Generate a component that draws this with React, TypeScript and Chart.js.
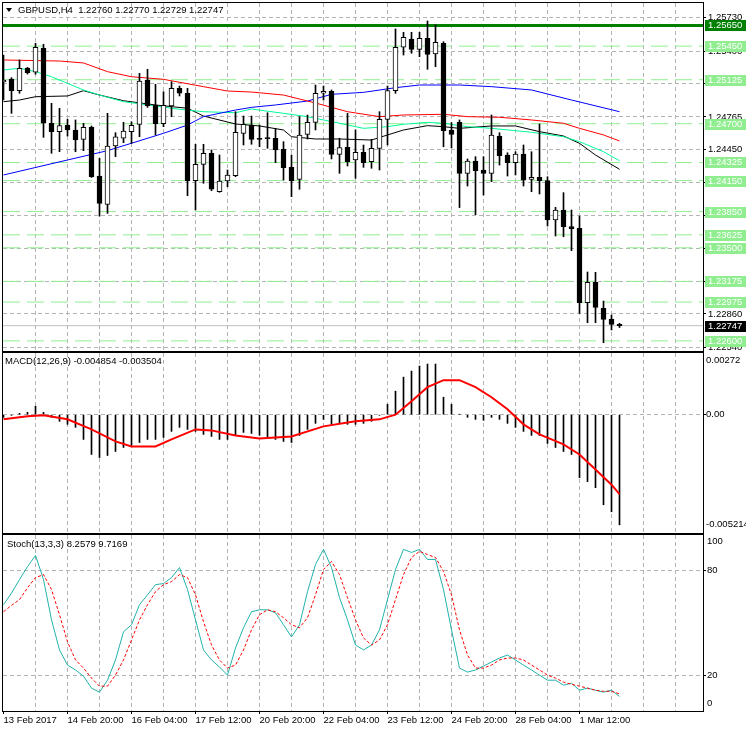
import React, { useEffect, useRef } from 'react';
import { Chart, registerables } from 'chart.js';

Chart.register(...registerables);

// ---------- data ----------
const TITLE = 'GBPUSD,H4  1.22760 1.22770 1.22729 1.22747';
const MACD_TITLE = 'MACD(12,26,9) -0.004854 -0.003504';
const STOCH_TITLE = 'Stoch(13,3,3) 8.2579 9.7169';

const X_LABELS = ['13 Feb 2017', '14 Feb 20:00', '16 Feb 04:00', '17 Feb 12:00', '20 Feb 20:00', '22 Feb 04:00', '23 Feb 12:00', '24 Feb 20:00', '28 Feb 04:00', '1 Mar 12:00'];
const X_LABEL_BARS = [0, 8, 16, 24, 32, 40, 48, 56, 64, 72];
const X_GRID_BARS = [0, 4, 8, 12, 16, 20, 24, 28, 32, 36, 40, 44, 48, 52, 56, 60, 64, 68, 72, 76, 80, 84];

const OPEN = [1.25103, 1.25132, 1.25019, 1.25236, 1.25197, 1.25429, 1.24704, 1.24623, 1.24687, 1.24639, 1.24549, 1.24665, 1.24194, 1.23920, 1.24484, 1.24559, 1.24623, 1.24694, 1.25122, 1.24878, 1.24700, 1.24871, 1.25042, 1.24994, 1.24149, 1.24307, 1.24414, 1.24042, 1.24146, 1.24197, 1.24607, 1.24687, 1.24559, 1.24559, 1.24559, 1.24452, 1.24278, 1.24162, 1.24597, 1.24713, 1.24994, 1.25013, 1.24404, 1.24472, 1.24349, 1.24423, 1.24332, 1.24462, 1.24742, 1.25019, 1.25439, 1.25519, 1.25419, 1.25526, 1.25374, 1.25477, 1.24639, 1.24713, 1.24220, 1.24339, 1.24252, 1.24220, 1.24581, 1.24397, 1.24323, 1.24407, 1.24162, 1.24181, 1.24149, 1.23769, 1.23865, 1.23704, 1.23688, 1.22969, 1.23166, 1.22915, 1.22811, 1.22760];
const HIGH = [1.25364, 1.25145, 1.25316, 1.25245, 1.25477, 1.25468, 1.24897, 1.24849, 1.24742, 1.24736, 1.24704, 1.24678, 1.24365, 1.24800, 1.24613, 1.24713, 1.24719, 1.25187, 1.25226, 1.25081, 1.25009, 1.25106, 1.25064, 1.25042, 1.24501, 1.24501, 1.24446, 1.24397, 1.24252, 1.24816, 1.24774, 1.24774, 1.24687, 1.24806, 1.24655, 1.24526, 1.24397, 1.24767, 1.24784, 1.25074, 1.25064, 1.25026, 1.24559, 1.24800, 1.24639, 1.24494, 1.24549, 1.24816, 1.25064, 1.25616, 1.25584, 1.25584, 1.25584, 1.25693, 1.25654, 1.25493, 1.24711, 1.24736, 1.24359, 1.24381, 1.24381, 1.24784, 1.24613, 1.24419, 1.24429, 1.24494, 1.24429, 1.24697, 1.24187, 1.23891, 1.24033, 1.23865, 1.23807, 1.23266, 1.23263, 1.22985, 1.22850, 1.22770];
const LOW = [1.24929, 1.24800, 1.24994, 1.25180, 1.25178, 1.24568, 1.24414, 1.24429, 1.24581, 1.24429, 1.24439, 1.24180, 1.23807, 1.23833, 1.24381, 1.24516, 1.24510, 1.24574, 1.24858, 1.24591, 1.24671, 1.24768, 1.24968, 1.24004, 1.23865, 1.24124, 1.24052, 1.24037, 1.24091, 1.24187, 1.24494, 1.24501, 1.24477, 1.24462, 1.24323, 1.24155, 1.23994, 1.24066, 1.24552, 1.24639, 1.24929, 1.24359, 1.24220, 1.24291, 1.24172, 1.24278, 1.24269, 1.24252, 1.24494, 1.24994, 1.25364, 1.25381, 1.25348, 1.25226, 1.25251, 1.24477, 1.24465, 1.23889, 1.24097, 1.23820, 1.24010, 1.24139, 1.24300, 1.24194, 1.24204, 1.24097, 1.24042, 1.24020, 1.23711, 1.23614, 1.23607, 1.23472, 1.22866, 1.22776, 1.22776, 1.22582, 1.22705, 1.22729];
const CLOSE = [1.25122, 1.25019, 1.25236, 1.25193, 1.25439, 1.24704, 1.24623, 1.24681, 1.24639, 1.24542, 1.24665, 1.24187, 1.23930, 1.24484, 1.24574, 1.24629, 1.24684, 1.25113, 1.24871, 1.24700, 1.24878, 1.25042, 1.24994, 1.24146, 1.24307, 1.24414, 1.24066, 1.24146, 1.24204, 1.24617, 1.24694, 1.24549, 1.24549, 1.24556, 1.24446, 1.24274, 1.24149, 1.24591, 1.24713, 1.24994, 1.25013, 1.24404, 1.24468, 1.24332, 1.24423, 1.24323, 1.24462, 1.24742, 1.25019, 1.25439, 1.25535, 1.25419, 1.25526, 1.25371, 1.25487, 1.24632, 1.24597, 1.24220, 1.24339, 1.24245, 1.24220, 1.24591, 1.24390, 1.24323, 1.24407, 1.24155, 1.24181, 1.24149, 1.23769, 1.23865, 1.23704, 1.23685, 1.22969, 1.23166, 1.22924, 1.22808, 1.22760, 1.22747];

// moving averages read at selected bars
const RED_MA_BARS = [0, 7, 10, 13, 16, 20, 25, 28, 31, 35, 39, 43, 47, 50, 55, 58, 62, 66, 70, 72, 75, 77];
const RED_MA = [1.25316, 1.25306, 1.25287, 1.25203, 1.25154, 1.25129, 1.25058, 1.25016, 1.25006, 1.24977, 1.24900, 1.24816, 1.24768, 1.24784, 1.24791, 1.24768, 1.24762, 1.24736, 1.24704, 1.24655, 1.24591, 1.24533];
const BLUE_MA_BARS = [0, 8, 13, 20, 23, 25, 29, 31, 34, 38, 41, 45, 49, 52, 57, 61, 66, 71, 77];
const BLUE_MA = [1.24204, 1.24349, 1.24439, 1.24607, 1.24687, 1.24768, 1.24832, 1.24858, 1.24881, 1.24919, 1.24984, 1.25003, 1.25048, 1.25074, 1.25074, 1.25058, 1.25026, 1.24929, 1.24816];
const BLACK_MA_BARS = [0, 2, 4, 8, 10, 12, 15, 19, 23, 25, 29, 32, 35, 36, 39, 42, 46, 48, 50, 53, 55, 57, 61, 64, 67, 70, 72, 74, 77];
const BLACK_MA = [1.24913, 1.24929, 1.24961, 1.24968, 1.25019, 1.24977, 1.24922, 1.24881, 1.24849, 1.24774, 1.24697, 1.24678, 1.24639, 1.24574, 1.24552, 1.24552, 1.24542, 1.24591, 1.24639, 1.24681, 1.24671, 1.24655, 1.24678, 1.24678, 1.24623, 1.24581, 1.24510, 1.24397, 1.24259];
const GREEN_MA_BARS = [0, 2, 4, 6, 10, 12, 15, 19, 22, 25, 29, 31, 35, 38, 42, 45, 48, 50, 53, 55, 58, 61, 66, 70, 72, 75, 77];
const GREEN_MA = [1.25219, 1.25236, 1.25203, 1.25154, 1.25026, 1.24977, 1.24913, 1.24871, 1.24839, 1.24816, 1.24806, 1.24842, 1.24800, 1.24768, 1.24704, 1.24655, 1.24671, 1.24694, 1.24713, 1.24704, 1.24671, 1.24655, 1.24617, 1.24574, 1.24526, 1.24429, 1.24342];

const MAIN_LEVEL = 1.2565;
const LEVELS = [1.2545, 1.25125, 1.247, 1.24325, 1.2415, 1.2385, 1.23625, 1.235, 1.23175, 1.22975, 1.226];
const LAST_PRICE = 1.22747;
const PRICE_TICKS = [1.2573, 1.254, 1.25085, 1.24765, 1.2445, 1.2413, 1.2381, 1.23495, 1.23175, 1.2286, 1.2254];
const PRICE_MIN = 1.22502;
const PRICE_MAX = 1.25867;

const MACD_HIST = [-0.000115, -0.000027, 0.000062, 0.000106, 0.000372, 0.000106, -0.000115, -0.000292, -0.000425, -0.000558, -0.00109, -0.001753, -0.001887, -0.001798, -0.001621, -0.001444, -0.001356, -0.001223, -0.00109, -0.00109, -0.001001, -0.000735, -0.000558, -0.000647, -0.000735, -0.000868, -0.000957, -0.00109, -0.00109, -0.000912, -0.00078, -0.000824, -0.000912, -0.001001, -0.00109, -0.001178, -0.001223, -0.000912, -0.000647, -0.000381, -0.000204, -0.000425, -0.000381, -0.000425, -0.000425, -0.000381, -0.000292, -0.000027, 0.000461, 0.001037, 0.001657, 0.001923, 0.002144, 0.002233, 0.002233, 0.000771, 0.000461, 0.000018, -0.000115, -0.000204, -0.000248, -0.000115, -0.000204, -0.000381, -0.000558, -0.000735, -0.000912, -0.000912, -0.001266, -0.001444, -0.001621, -0.001753, -0.002773, -0.00295, -0.003216, -0.003969, -0.004279, -0.004854];
const MACD_SIGNAL_BARS = [0, 3, 5, 8, 11, 14, 16, 19, 21, 24, 26, 29, 32, 36, 40, 44, 47, 49, 51, 53, 55, 57, 59, 61, 63, 65, 67, 70, 72, 74, 76, 77];
const MACD_SIGNAL = [-0.000204, -0.000071, -0.000027, -0.000204, -0.000647, -0.001178, -0.0014, -0.0014, -0.00109, -0.000647, -0.000691, -0.000912, -0.001046, -0.000957, -0.000514, -0.000292, -0.000204, 0, 0.000594, 0.001214, 0.001524, 0.001524, 0.001214, 0.000771, 0.000239, -0.000425, -0.000868, -0.001311, -0.001753, -0.002419, -0.003083, -0.003504];
const MACD_MAX = 0.00272;
const MACD_MIN = -0.005214;
const MACD_TICKS = [0.00238, 0, -0.00482];
const MACD_TICK_LABELS = ['0.00272', '0.00', '-0.005214'];

const STOCH_MAIN = [60.4, 67, 74.7, 82, 88.4, 74.7, 51.8, 34.7, 26.1, 23.3, 19.8, 13, 10.7, 17.5, 29, 45, 49, 60.4, 66, 71.8, 72.4, 75.8, 81.5, 69, 51.8, 34.7, 29, 25, 20.4, 35.8, 47.3, 56.4, 57.5, 57.5, 55.8, 49, 42.1, 49, 67.8, 83.3, 91.8, 81.5, 64.4, 51.8, 37.5, 34.7, 37.5, 46.1, 63.3, 80.4, 91.8, 90.1, 91.8, 86.1, 86.1, 69, 46.1, 24.4, 22.1, 23.3, 25.5, 27.8, 30.1, 31.8, 29, 26.1, 23.3, 20.4, 17.5, 17.5, 14.7, 15.8, 11.8, 13, 11.8, 10.7, 11.8, 8.26];
const STOCH_SIGNAL = [56.4, 60, 63.3, 70, 75.8, 77.5, 69, 54.7, 39.3, 29, 24.4, 18.7, 14.1, 14.1, 20.4, 29, 40.4, 51.8, 60.4, 67.8, 71.8, 73.5, 77.5, 75.8, 66, 50.7, 37.5, 29, 24.4, 26.1, 34.7, 46.1, 54.7, 57.5, 56.4, 53, 49, 47.3, 53, 66, 80.4, 85, 77.5, 64.4, 51.8, 41.5, 37.5, 40.4, 49, 63.3, 77.5, 87.2, 90.7, 88.9, 87.2, 79.3, 66, 46.1, 31.8, 24.4, 24.4, 26.1, 29, 30.1, 30.1, 29, 26.1, 23.3, 20.4, 18.7, 16.4, 15.2, 14.1, 13, 11.8, 11.2, 11.2, 9.72];
const STOCH_TICKS = [96.2, 80, 20, 4.4];
const STOCH_TICK_LABELS = ['100', '80', '20', '0'];

// ---------- styling ----------
const FONT = "'Liberation Sans', Arial, sans-serif";
const FONT_SIZE = 9.5;
const GRID_COLOR = '#b4b4b4';
const GRID_DASH = [4, 3];
const LEVEL_COLOR = '#90ee90';
const X_MIN = -0.0625;
const X_MAX = 87.4375;
const AXIS_W = 43;

const pts = (xs: number[], ys: number[]) => xs.map((x, i) => ({ x, y: ys[i] }));
const hLine = (v: number) => [{ x: X_MIN, y: v }, { x: X_MAX, y: v }];

const noPad = (s: any) => {
  s.paddingTop = 0;
  s.paddingBottom = 0;
  s.paddingLeft = 0;
  s.paddingRight = 0;
};

const xScale = (showLabels: boolean) => ({
  type: 'linear',
  min: X_MIN,
  max: X_MAX,
  offset: false,
  afterBuildTicks: (s: any) => { s.ticks = X_GRID_BARS.map((v) => ({ value: v })); },
  afterFit: (s: any) => { s.height = showLabels ? 20 : 0; noPad(s); },
  grid: {
    offset: false,
    color: (c: any) => (c.tick && c.tick.value > 0 ? GRID_COLOR : 'rgba(0,0,0,0)'),
    drawTicks: showLabels,
    tickLength: 3,
    tickColor: (c: any) => (c.tick && X_LABEL_BARS.includes(c.tick.value) ? '#000' : 'rgba(0,0,0,0)'),
    tickBorderDash: [],
  },
  border: { display: false, dash: GRID_DASH },
  ticks: {
    display: showLabels,
    autoSkip: false,
    maxRotation: 0,
    align: 'start',
    padding: 1,
    color: '#000',
    font: { family: FONT, size: FONT_SIZE },
    callback: (v: number) => {
      const k = X_LABEL_BARS.indexOf(v);
      return k >= 0 ? X_LABELS[k] : '';
    },
  },
});

const yScale = (min: number, max: number, ticks: number[], label: (v: number, i: number) => string, gridOn: (v: number) => boolean, pad: number) => ({
  type: 'linear',
  position: 'right',
  min,
  max,
  afterBuildTicks: (s: any) => { s.ticks = ticks.map((v) => ({ value: v })); },
  afterFit: (s: any) => { s.width = AXIS_W; noPad(s); },
  grid: {
    color: (c: any) => (c.tick && gridOn(c.tick.value) ? GRID_COLOR : 'rgba(0,0,0,0)'),
    tickColor: (c: any) => (c.tick && gridOn(c.tick.value) ? '#000' : 'rgba(0,0,0,0)'),
    tickLength: 3,
    tickBorderDash: [],
  },
  border: { display: true, color: '#000', dash: GRID_DASH },
  ticks: {
    autoSkip: false,
    padding: pad,
    color: '#000',
    font: { family: FONT, size: FONT_SIZE },
    callback: (v: number, i: number) => label(v, i),
  },
});

const framePlugin = {
  id: 'frame',
  afterDraw(chart: any) {
    const { ctx, chartArea: a } = chart;
    ctx.save();
    ctx.strokeStyle = '#000';
    ctx.lineWidth = 1;
    ctx.strokeRect(a.left - 0.5, a.top - 0.5, a.right - a.left + 1, a.bottom - a.top + 1);
    ctx.restore();
  },
};

const textPlugin = (id: string, text: string, x: number, y: number, triangle: boolean) => ({
  id,
  afterDraw(chart: any) {
    const { ctx } = chart;
    ctx.save();
    if (triangle) {
      ctx.fillStyle = '#000';
      ctx.beginPath();
      ctx.moveTo(6, 8);
      ctx.lineTo(12, 8);
      ctx.lineTo(9, 12);
      ctx.closePath();
      ctx.fill();
    }
    ctx.fillStyle = '#000';
    ctx.font = `${FONT_SIZE}px ${FONT}`;
    ctx.textBaseline = 'middle';
    ctx.textAlign = 'left';
    ctx.fillText(text, x, y);
    ctx.restore();
  },
});

const levelLabelPlugin = {
  id: 'levelLabels',
  afterDraw(chart: any) {
    const { ctx } = chart;
    const y = chart.scales.y;
    const right = chart.chartArea.right;
    const box = (v: number, bg: string, fg: string) => {
      const py = Math.round(y.getPixelForValue(v));
      ctx.fillStyle = bg;
      ctx.fillRect(right + 2, py - 5, AXIS_W - 2, 11);
      ctx.fillStyle = fg;
      ctx.font = `${FONT_SIZE}px ${FONT}`;
      ctx.textBaseline = 'middle';
      ctx.textAlign = 'left';
      ctx.fillText(v.toFixed(5), right + 5, py + 0.5);
    };
    ctx.save();
    LEVELS.forEach((v) => box(v, LEVEL_COLOR, '#fff'));
    box(MAIN_LEVEL, '#008000', '#fff');
    box(LAST_PRICE, '#000', '#fff');
    ctx.restore();
  },
};

const baseOptions = (padding: any) => ({
  responsive: false,
  animation: false,
  events: [],
  layout: { padding, autoPadding: false },
  plugins: { legend: { display: false }, tooltip: { enabled: false }, title: { display: false } },
});

const lineDs = (data: any[], color: string, width: number, order: number, dash: number[] = []) => ({
  type: 'line',
  data,
  borderColor: color,
  borderWidth: width,
  borderDash: dash,
  pointRadius: 0,
  tension: 0,
  fill: false,
  order,
});

function mainConfig(): any {
  const isUp = (i: number) => CLOSE[i] >= OPEN[i];
  return {
    type: 'bar',
    data: {
      datasets: [
        ...LEVELS.map((v) => lineDs(hLine(v), LEVEL_COLOR, 1, 10, [17, 7])),
        lineDs(hLine(LAST_PRICE), '#c0c0c0', 1, 9),
        lineDs(hLine(MAIN_LEVEL), '#008000', 3, 8),
        lineDs(pts(RED_MA_BARS, RED_MA), '#ff0000', 1, 5),
        lineDs(pts(BLUE_MA_BARS, BLUE_MA), '#0000ff', 1, 5),
        lineDs(pts(GREEN_MA_BARS, GREEN_MA), '#00fa9a', 1, 5),
        lineDs(pts(BLACK_MA_BARS, BLACK_MA), '#000000', 1, 5),
        {
          type: 'bar',
          data: HIGH.map((h, i) => ({ x: i, y: [LOW[i], h] })),
          backgroundColor: '#000',
          borderWidth: 0,
          barThickness: 1,
          grouped: false,
          order: 2,
        },
        {
          type: 'bar',
          data: OPEN.map((o, i) => ({ x: i, y: [o, CLOSE[i]] })),
          backgroundColor: OPEN.map((_, i) => (isUp(i) ? '#fff' : '#000')),
          borderColor: '#000',
          borderWidth: 1,
          borderSkipped: false,
          barThickness: 5,
          minBarLength: 1,
          grouped: false,
          order: 1,
        },
      ],
    },
    options: {
      ...baseOptions({ left: 3, top: 3, right: 0, bottom: 1 }),
      scales: {
        x: xScale(false),
        y: yScale(PRICE_MIN, PRICE_MAX, PRICE_TICKS, (v) => Number(v).toFixed(5), () => true, 2),
      },
    },
    plugins: [framePlugin, levelLabelPlugin, textPlugin('title', TITLE, 18, 10.5, true)],
  };
}

function macdConfig(): any {
  return {
    type: 'bar',
    data: {
      datasets: [
        lineDs(pts(MACD_SIGNAL_BARS, MACD_SIGNAL), '#ff0000', 2, 1),
        {
          type: 'bar',
          data: MACD_HIST.map((v, i) => ({ x: i, y: [0, v] })),
          backgroundColor: '#000',
          borderWidth: 0,
          barThickness: 1,
          grouped: false,
          order: 2,
        },
      ],
    },
    options: {
      ...baseOptions({ left: 3, top: 1, right: 0, bottom: 1 }),
      scales: {
        x: xScale(false),
        y: yScale(MACD_MIN, MACD_MAX, MACD_TICKS, (_v, i) => MACD_TICK_LABELS[i], (v) => v === 0, 0),
      },
    },
    plugins: [framePlugin, textPlugin('macdTitle', MACD_TITLE, 5, 9, false)],
  };
}

function stochConfig(): any {
  return {
    type: 'line',
    data: {
      datasets: [
        lineDs(STOCH_MAIN.map((v, i) => ({ x: i, y: v })), '#20b2aa', 1, 2),
        lineDs(STOCH_SIGNAL.map((v, i) => ({ x: i, y: v })), '#ff0000', 1, 1, [3, 2]),
      ],
    },
    options: {
      ...baseOptions({ left: 3, top: 1, right: 0, bottom: 0 }),
      scales: {
        x: xScale(true),
        y: yScale(0, 100, STOCH_TICKS, (_v, i) => STOCH_TICK_LABELS[i], (v) => v === 80 || v === 20, 1),
      },
    },
    plugins: [framePlugin, textPlugin('stochTitle', STOCH_TITLE, 7, 10, false)],
  };
}

export default function App() {
  const mainRef = useRef<HTMLCanvasElement>(null);
  const macdRef = useRef<HTMLCanvasElement>(null);
  const stochRef = useRef<HTMLCanvasElement>(null);

  useEffect(() => {
    const charts = [
      new Chart(mainRef.current as HTMLCanvasElement, mainConfig()),
      new Chart(macdRef.current as HTMLCanvasElement, macdConfig()),
      new Chart(stochRef.current as HTMLCanvasElement, stochConfig()),
    ];
    return () => charts.forEach((c) => c.destroy());
  }, []);

  return (
    <div style={{ position: 'absolute', left: 0, top: 0, width: 746, height: 731, background: '#fff', overflow: 'hidden' }}>
      <canvas ref={mainRef} width={746} height={352} style={{ position: 'absolute', left: 0, top: 0 }} />
      <canvas ref={macdRef} width={746} height={182} style={{ position: 'absolute', left: 0, top: 352 }} />
      <canvas ref={stochRef} width={746} height={197} style={{ position: 'absolute', left: 0, top: 534 }} />
    </div>
  );
}
